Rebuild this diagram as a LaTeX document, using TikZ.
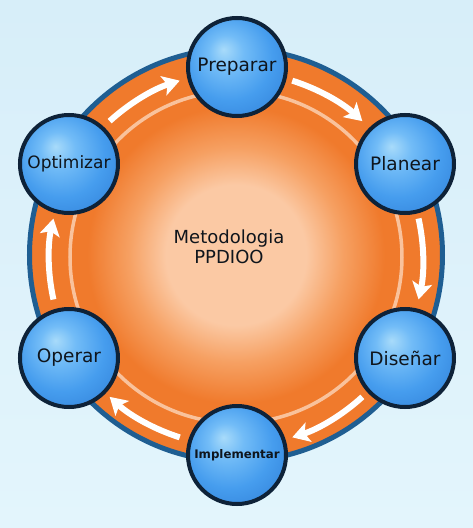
\documentclass[tikz,border=0pt]{standalone}
\usepackage{fontspec}
\setmainfont{DejaVu Sans}
\usetikzlibrary{arrows.meta,calc}
\definecolor{bgtop}{HTML}{D7EEF9}
\definecolor{bgbot}{HTML}{E3F5FC}
\definecolor{peach}{HTML}{FBC9A4}
\definecolor{orangemid}{HTML}{F6A062}
\definecolor{orangeout}{HTML}{F07A2C}
\definecolor{ringblue}{HTML}{1F5E92}
\definecolor{paleline}{HTML}{F9C29C}
\definecolor{navy}{HTML}{0E2238}
\definecolor{bhi}{HTML}{A8DBFA}
\definecolor{bmid}{HTML}{72BCF7}
\definecolor{blo}{HTML}{469DEE}
\definecolor{bedge}{HTML}{3A8DE2}
\definecolor{txt}{HTML}{0F151C}
\pgfdeclareradialshading{orangeorb}{\pgfpoint{0bp}{0bp}}{color(0bp)=(peach); color(8.5bp)=(peach); color(13bp)=(orangemid); color(18bp)=(orangeout); color(50bp)=(orangeout)}
\pgfdeclareradialshading{blueball}{\pgfpoint{-7bp}{9bp}}{color(0bp)=(bhi); color(9bp)=(bmid); color(22bp)=(blo); color(30bp)=(bedge); color(50bp)=(bedge)}
\tikzset{
  phase/.style={circle, draw=navy, line width=4pt, minimum size=98pt, inner sep=0pt,
    shading=blueball, text=txt, font=\fontsize{18.5}{20}\selectfont},
  cyclearrow/.style={draw=white, line width=6pt, -{Stealth[length=17pt,width=20pt,inset=4pt]}},
}
\begin{document}
\begin{tikzpicture}[x=1pt,y=1pt]
% background
\shade[top color=bgtop, bottom color=bgbot] (-236,-271) rectangle (237,257);
\useasboundingbox (-236,-271) rectangle (237,257);
% big orange disc
\shade[shading=orangeorb] (0,2) circle[radius=206.5];
\draw[ringblue, line width=5pt] (0,2) circle[radius=206.5];
% pale inner ring
\draw[paleline, line width=3.5pt] (0,0) circle[radius=166];
% cycle arrows
\foreach \m [count=\i] in {120,60,0,-60,-120,180}{
  \coordinate (s\i) at ($(0,-2)+(\m+12.5:187)$);
  \draw[cyclearrow] (s\i) arc[start angle=\m+12.5, end angle=\m-12.5, radius=187];
}
% center text
\node[text=txt, align=center, font=\fontsize{18}{20.5}\selectfont] (center) at (-7,10) {Metodologia\\PPDIOO};
% phases
\node[phase] (preparar) at ($(1,-4)+(90:194)$) {Preparar};
\node[phase] (planear) at ($(1,-4)+(30:194)$) {Planear};
\node[phase] (disenar) at ($(1,-4)+(-30:194)$) {Diseñar};
\node[phase, font=\bfseries\fontsize{11.8}{13}\selectfont] (implementar) at ($(1,-4)+(-90:194)$) {Implementar};
\node[phase] (operar) at ($(1,-4)+(-150:194)$) {Operar};
\node[phase, font=\fontsize{17}{20}\selectfont] (optimizar) at ($(1,-4)+(150:194)$) {Optimizar};
\end{tikzpicture}
\end{document}
